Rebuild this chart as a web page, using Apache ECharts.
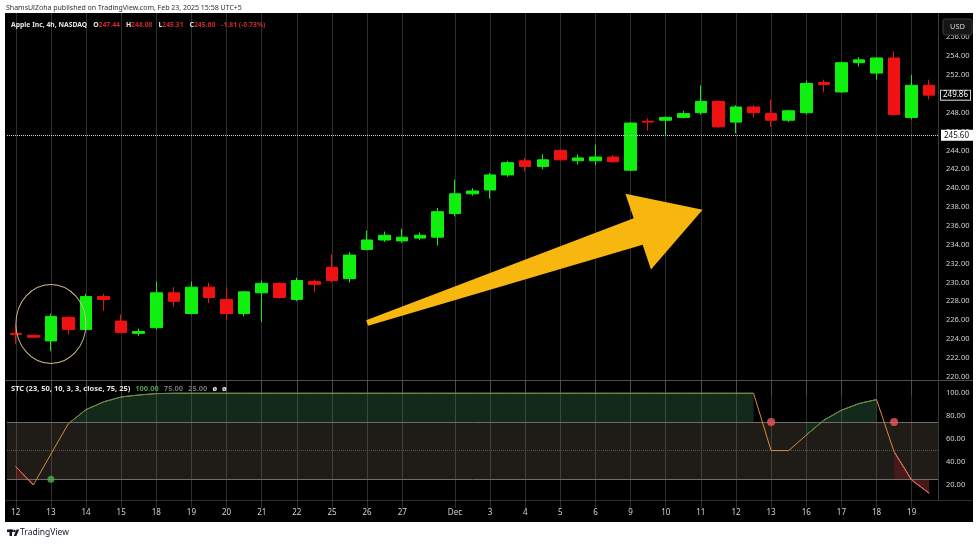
<!DOCTYPE html>
<html><head><meta charset="utf-8">
<script src="https://cdn.jsdelivr.net/npm/echarts@6/dist/echarts.min.js"></script>
<style>html,body{margin:0;padding:0;background:#fff}#c{width:980px;height:544px}</style>
</head><body><div id="c"></div>
<script>
// ---------- DATA ----------
const days = ['11-12','11-13','11-14','11-15','11-18','11-19','11-20','11-21','11-22','11-25','11-26','11-27','11-29',
  '12-02','12-03','12-04','12-05','12-06','12-09','12-10','12-11','12-12','12-13','12-16','12-17','12-18','12-19'];
const dayTickLabels = ['12','13','14','15','18','19','20','21','22','25','26','27','',
  'Dec','3','4','5','6','9','10','11','12','13','16','17','18','19'];
const halfDays = ['11-29'];
const sessionTimes = ['09:30','13:30'];

const opens  = [224.6,224.4,223.8,226.3,225.0,228.5,225.9,224.6,225.2,228.9,226.7,229.5,228.2,226.7,228.9,229.9,228.2,230.1,
  231.6,230.4,233.5,234.5,234.4,234.7,234.8,237.3,239.4,239.8,241.4,242.9,242.3,244.0,242.9,242.9,243.3,241.9,
  247.1,247.2,247.5,248.0,249.2,247.0,248.6,247.9,247.2,248.0,251.2,250.2,253.3,252.2,253.8,247.5,250.9];
const closes = [224.5,224.2,226.4,225.0,228.5,228.2,224.7,224.8,228.9,228.0,229.5,228.4,226.7,229.0,229.9,228.4,230.2,229.8,
  230.2,232.9,234.5,235.0,234.8,235.0,237.5,239.4,239.7,241.4,242.7,242.3,243.0,243.0,243.2,243.3,242.8,246.9,
  247.0,247.5,247.9,249.2,246.5,248.6,248.0,247.2,248.2,251.1,251.0,253.3,253.6,253.8,247.8,250.9,249.86];
const lows   = [223.5,224.1,222.7,224.5,225.0,227.0,224.6,224.3,225.0,227.4,226.6,227.8,226.0,226.4,225.8,228.3,228.0,229.0,
  230.0,230.0,233.4,234.3,234.2,234.5,233.9,237.0,239.2,238.9,241.2,241.8,242.0,242.9,242.5,242.4,242.7,241.8,
  246.1,245.6,247.4,247.8,246.4,245.8,247.5,246.5,247.0,247.8,250.2,250.1,252.9,251.5,247.7,247.3,249.4];
const highs  = [225.5,224.5,226.7,226.4,228.8,228.8,226.6,225.1,230.1,229.5,230.1,230.0,229.5,229.1,230.2,230.0,230.5,230.3,
  233.0,233.2,235.5,235.4,235.7,235.3,237.9,240.9,240.0,241.6,242.9,243.2,243.6,244.1,243.6,244.6,243.5,247.0,
  247.4,247.6,248.2,250.9,249.3,248.8,248.8,249.4,248.3,251.4,251.5,253.4,253.9,253.9,254.5,252.0,251.5];

const stc = [36,20,47,73.6,85.8,92.5,96.8,98.5,99.7,
  100,100,100,100,100,100,100,100,100,100,100,100,100,100,100,100,100,
  100,100,100,100,100,100,100,100,100,100,100,100,100,100,100,100,100,
  50,50,63.5,76.5,85.2,91,94.5,49,24.3,12.8];
const stcUpZones = [[3,42],[45,49]];
const stcDownZones = [[0,1],[50,52]];
const stcBuyDots = [2];
const stcSellDots = [43,50];
const stcUpper = 75, stcMid = 50, stcLower = 25;

const lastPrice = 245.60;
const crosshairClose = 249.86;
const circleAnchor = {index: 2, price: 225.6};
const arrowTail = {index: 20, price: 225.7};
const arrowTip = {index: 39.1, price: 237.7};

// ---------- BUILD ----------
const categories = [], catTick = [];
days.forEach((d, i) => {
  const n = halfDays.includes(d) ? 1 : 2;
  for (let s = 0; s < n; s++) {
    categories.push(d + ' ' + sessionTimes[s]);
    catTick.push(s === 0 ? dayTickLabels[i] : '');
  }
});
const tickMap = {};
categories.forEach((c, i) => { tickMap[c] = catTick[i]; });
const candleData = categories.map((c, i) => [opens[i], closes[i], lows[i], highs[i]]);
const vLines = categories.filter((c, i) => catTick[i]).map(c => ({xAxis: c}));
function mask(zones) { return stc.map((v, i) => zones.some(z => i >= z[0] && i <= z[1]) ? v : '-'); }

const FF = "'Noto Sans', sans-serif";
const GRID_LINE = 'rgba(140,140,140,0.33)';
const chart = echarts.init(document.getElementById('c'), null, {renderer: 'canvas'});

const hs = (c, extra) => Object.assign({color: c, fontSize: 6.8, fontFamily: FF, lineHeight: 10}, extra || {});
const ss = (c, extra) => Object.assign({color: c, fontSize: 7.5, fontFamily: FF, lineHeight: 10}, extra || {});

const option = {
  animation: false,
  backgroundColor: '#ffffff',
  title: [
    {text: 'ShamsUlZoha published on TradingView.com, Feb 23, 2025 15:58 UTC+5', left: 6, top: 3, padding: 0,
     textStyle: {fontSize: 7, color: '#2a2e39', fontWeight: 'normal', fontFamily: FF, lineHeight: 10}},
    {text: '{w|Apple Inc, 4h, NASDAQ}{sp|}{w|O}{r|247.44}{sp|}{w|H}{r|248.08}{sp|}{w|L}{r|245.31}{sp|}{w|C}{r|245.60}{sp|}{r|-1.81 (-0.73%)}',
     left: 11, top: 20, padding: 0,
     textStyle: {rich: {w: hs('#e6e6e6'), r: hs('#c9272f'), sp: hs('#000', {width: 6})}}},
    {text: '{w|STC (23, 50, 10, 3, 3, close, 75, 25)}{sp|}{g|100.00}{sp|}{y|75.00}{sp|}{y|25.00}{sp|}{w|ø}{sp|}{w|ø}',
     left: 11, top: 384, padding: 0,
     textStyle: {rich: {w: ss('#e6e6e6'), g: ss('#4f9a4f'), y: ss('#6f6f6f'), sp: ss('#000', {width: 5})}}},
    {text: 'TradingView', left: 20, top: 528, padding: 0,
     textStyle: {fontSize: 8.5, color: '#131722', fontWeight: 'normal', fontFamily: FF, lineHeight: 10}}
  ],
  grid: [
    {left: 7, width: 931, top: 13, height: 382.6, outerBoundsMode: 'none'},
    {left: 7, width: 931, top: 381, height: 126.9, outerBoundsMode: 'none'}
  ],
  xAxis: [
    {type: 'category', gridIndex: 0, data: categories, show: false},
    {type: 'category', gridIndex: 1, data: categories,
     axisLine: {show: false}, axisTick: {show: false}, splitLine: {show: false},
     axisLabel: {interval: (i) => !!catTick[i], formatter: (v) => tickMap[v] || '',
                 color: '#d1d4dc', fontSize: 8, fontFamily: FF, margin: 1}}
  ],
  yAxis: [
    {type: 'value', gridIndex: 0, position: 'right', min: 218, max: 258.57, interval: 2,
     axisLine: {show: false}, axisTick: {show: false}, splitLine: {show: false},
     axisLabel: {color: '#d1d4dc', fontSize: 7.5, fontFamily: FF, margin: 8,
       formatter: (v) => (v >= 219.9 && v <= 256.1 && Math.abs(v / 2 - Math.round(v / 2)) < 1e-6) ? v.toFixed(2) : ''}},
    {type: 'value', gridIndex: 1, position: 'right', min: 0, max: 110.7, interval: 20,
     axisLine: {show: false}, axisTick: {show: false}, splitLine: {show: false},
     axisLabel: {color: '#d1d4dc', fontSize: 7.5, fontFamily: FF, margin: 8,
       formatter: (v) => (v >= 19.9 && v <= 100.1) ? v.toFixed(2) : ''}}
  ],
  series: [
    // price pane vertical grid lines
    {type: 'line', xAxisIndex: 0, yAxisIndex: 0, data: closes, symbol: 'none', silent: true,
     lineStyle: {opacity: 0}, z: 1,
     markLine: {silent: true, z: 1, symbol: ['none', 'none'], label: {show: false},
       lineStyle: {color: GRID_LINE, type: 'solid', width: 1}, data: vLines}},
    {type: 'candlestick', xAxisIndex: 0, yAxisIndex: 0, data: candleData, barWidth: 12, z: 2,
     itemStyle: {color: '#0ff00f', color0: '#f01212', borderColor: '#0ff00f', borderColor0: '#f01212', borderWidth: 1},
     markLine: {silent: true, z: 5, symbol: ['none', 'none'], data: [
       {yAxis: lastPrice, lineStyle: {type: 'dotted', color: '#cfcfcf', width: 1},
        label: {show: true, position: 'end', distance: 3, formatter: lastPrice.toFixed(2),
                backgroundColor: '#ffffff', color: '#111', padding: [2, 4, 1, 3], fontSize: 8, fontFamily: FF}},
       {yAxis: crosshairClose, lineStyle: {color: 'rgba(0,0,0,0)', width: 1, type: 'solid'},
        label: {show: true, position: 'end', distance: 3, formatter: crosshairClose.toFixed(2),
                backgroundColor: '#000', borderColor: '#d0d0d0', borderWidth: 1, color: '#fff',
                padding: [1, 2, 0, 2], fontSize: 8, fontFamily: FF}}
     ]},
     markPoint: {silent: true, symbol: 'circle', symbolSize: [70, 79], label: {show: false},
       itemStyle: {color: 'rgba(0,0,0,0)', borderColor: '#cdb98a', borderWidth: 1},
       data: [{coord: [categories[circleAnchor.index], circleAnchor.price]}]}},
    // STC band + levels + grid lines
    {type: 'line', xAxisIndex: 1, yAxisIndex: 1, data: stc, symbol: 'none', silent: true, lineStyle: {opacity: 0}, z: 1,
     markArea: {silent: true, itemStyle: {color: '#1f1b17'}, data: [[{yAxis: stcLower}, {yAxis: stcUpper}]]},
     markLine: {silent: true, z: 3, symbol: ['none', 'none'], label: {show: false},
       lineStyle: {color: GRID_LINE, type: 'solid', width: 1},
       data: vLines.concat([
         {yAxis: stcUpper, lineStyle: {color: '#6c6c6c', type: 'solid', width: 1}},
         {yAxis: stcLower, lineStyle: {color: '#6c6c6c', type: 'solid', width: 1}},
         {yAxis: stcMid, lineStyle: {color: '#555', type: 'dotted', width: 1}}
       ])}},
    // fills
    {type: 'line', xAxisIndex: 1, yAxisIndex: 1, data: mask(stcUpZones), symbol: 'none', silent: true, z: 2,
     lineStyle: {opacity: 0}, areaStyle: {origin: stcUpper, color: '#13291a', opacity: 1}},
    {type: 'line', xAxisIndex: 1, yAxisIndex: 1, data: mask(stcDownZones), symbol: 'none', silent: true, z: 2,
     lineStyle: {opacity: 0}, areaStyle: {origin: stcLower, color: '#471a1a', opacity: 1}},
    // STC line
    {type: 'line', xAxisIndex: 1, yAxisIndex: 1, data: stc, symbol: 'none', silent: true, z: 4,
     lineStyle: {color: '#d98b3a', width: 1}},
    {type: 'line', xAxisIndex: 1, yAxisIndex: 1, data: mask(stcUpZones), symbol: 'none', silent: true, z: 5,
     lineStyle: {color: '#4f8f4f', width: 1}},
    {type: 'line', xAxisIndex: 1, yAxisIndex: 1, data: mask(stcDownZones), symbol: 'none', silent: true, z: 5,
     lineStyle: {color: '#e8646e', width: 1}},
    // signal dots
    {type: 'scatter', xAxisIndex: 1, yAxisIndex: 1, silent: true, z: 6, symbolSize: 7,
     itemStyle: {color: '#4caf50'}, data: stcBuyDots.map(i => [categories[i], stcLower])},
    {type: 'scatter', xAxisIndex: 1, yAxisIndex: 1, silent: true, z: 6, symbolSize: 8,
     itemStyle: {color: '#f25858'}, data: stcSellDots.map(i => [categories[i], stcUpper])}
  ],
  graphic: {elements: [
    {type: 'rect', id: 'bg', silent: true, z: -10, shape: {x: 5, y: 13, width: 968, height: 509}, style: {fill: '#000'}},
    {type: 'line', id: 'sepH', silent: true, z: 3, shape: {x1: 5, y1: 380.5, x2: 973, y2: 380.5}, style: {stroke: '#4d4d4d', lineWidth: 1}},
    {type: 'line', id: 'sepV', silent: true, z: 3, shape: {x1: 938.5, y1: 13, x2: 938.5, y2: 501}, style: {stroke: '#3a3a3a', lineWidth: 1}},
    {type: 'line', id: 'sepB', silent: true, z: 3, shape: {x1: 5, y1: 500.5, x2: 973, y2: 500.5}, style: {stroke: '#2c2c2c', lineWidth: 1}},
    {type: 'rect', id: 'usdBox', silent: true, z: 20, shape: {x: 943, y: 19, width: 29, height: 16, r: 2}, style: {fill: '#161616', stroke: '#3c3c3c', lineWidth: 1}},
    {type: 'text', id: 'usd', silent: true, z: 21, style: {text: 'USD', x: 957.5, y: 27, fill: '#d1d4dc', font: "7.5px 'Noto Sans'", align: 'center', verticalAlign: 'middle'}},
    {type: 'rect', id: 'lg1', silent: true, z: 21, shape: {x: 7, y: 529.5, width: 6, height: 2.5}, style: {fill: '#131722'}},
    {type: 'rect', id: 'lg2', silent: true, z: 21, shape: {x: 9.5, y: 529.5, width: 2.5, height: 6.5}, style: {fill: '#131722'}},
    {type: 'circle', id: 'lg3', silent: true, z: 21, shape: {cx: 14.4, cy: 531, r: 1.3}, style: {fill: '#131722'}},
    {type: 'polygon', id: 'lg4', silent: true, z: 21, shape: {points: [[16.6, 529.5], [19.2, 529.5], [16.4, 536], [13.8, 536]]}, style: {fill: '#131722'}}
  ]}
};
chart.setOption(option);

// arrow annotation anchored to data coordinates
function px(idx, price) {
  const i0 = Math.floor(idx), f = idx - i0;
  const a = chart.convertToPixel({gridIndex: 0}, [i0, price]);
  const b = chart.convertToPixel({gridIndex: 0}, [i0 + 1, price]);
  return [a[0] + (b[0] - a[0]) * f, a[1]];
}
const T = px(arrowTail.index, arrowTail.price), P = px(arrowTip.index, arrowTip.price);
const dx = P[0] - T[0], dy = P[1] - T[1], L = Math.hypot(dx, dy);
const ux = dx / L, uy = dy / L, nx = -uy, ny = ux;
const headLen = 68, headHalf = 40, shaftHalfBase = 14, shaftHalfTail = 3;
const B = [T[0] + ux * (L - headLen), T[1] + uy * (L - headLen)];
const pts = [
  [T[0] - nx * shaftHalfTail, T[1] - ny * shaftHalfTail],
  [B[0] - nx * shaftHalfBase, B[1] - ny * shaftHalfBase],
  [B[0] - nx * headHalf, B[1] - ny * headHalf],
  [P[0], P[1]],
  [B[0] + nx * headHalf, B[1] + ny * headHalf],
  [B[0] + nx * shaftHalfBase, B[1] + ny * shaftHalfBase],
  [T[0] + nx * shaftHalfTail, T[1] + ny * shaftHalfTail]
];
chart.setOption({graphic: {elements: [
  {type: 'polygon', id: 'arrow', silent: true, z: 20, shape: {points: pts}, style: {fill: '#f7b70f'}}
]}});
</script></body></html>
